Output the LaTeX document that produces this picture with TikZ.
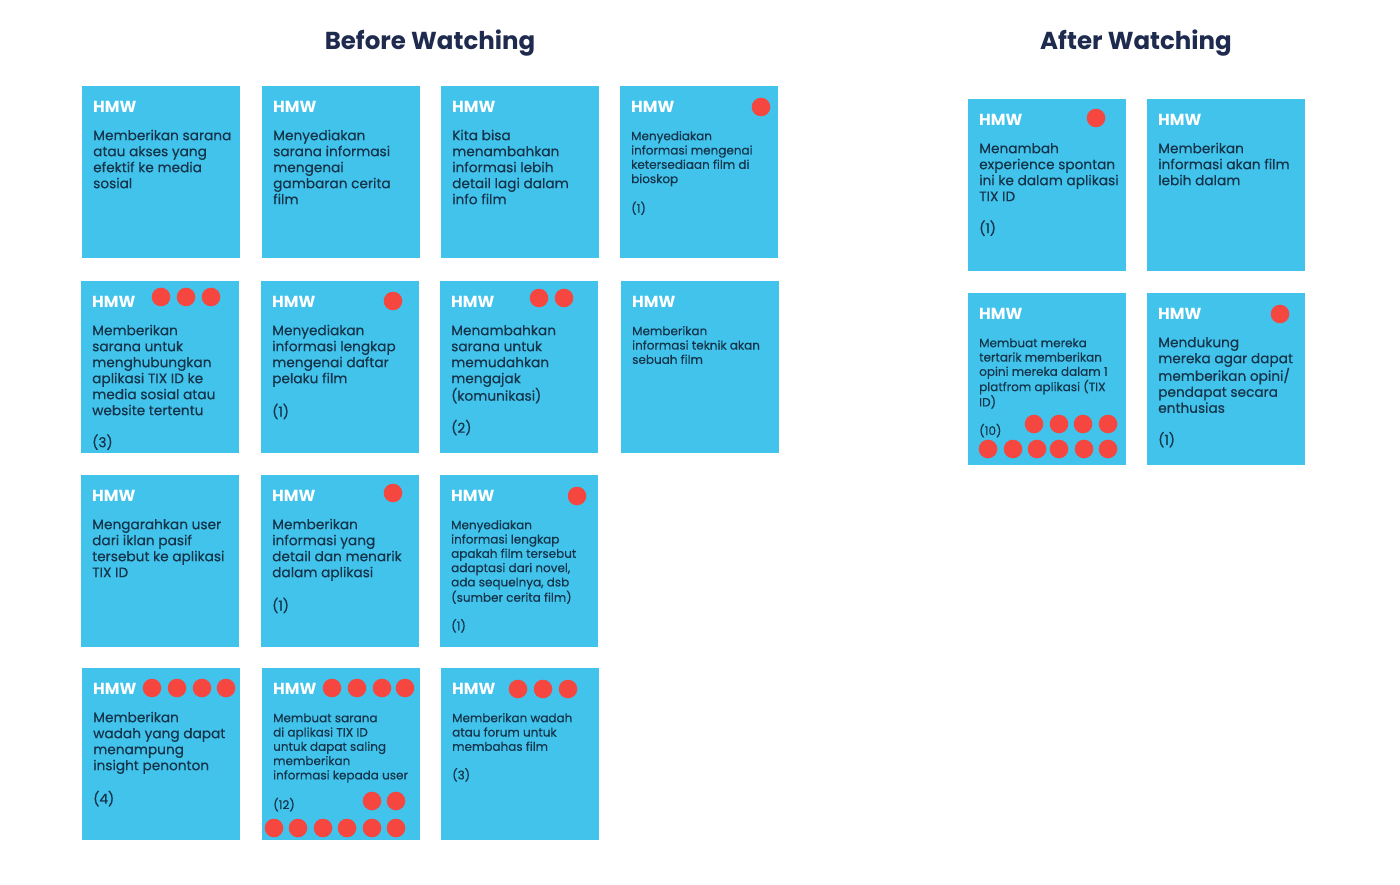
\documentclass[tikz,border=0pt]{standalone}
\usepackage{fontspec}
\setmainfont{Poppins}
\newfontfamily\medfont[FakeBold=0.35]{Poppins}
\definecolor{cardblue}{HTML}{41C3EC}
\definecolor{dotred}{HTML}{F5473F}
\definecolor{titlenavy}{HTML}{1E2B4F}
\definecolor{bodytext}{HTML}{15344A}
\tikzset{
  card/.style={fill=cardblue, draw=none, minimum width=158pt, minimum height=172pt, anchor=north west, inner sep=0pt, outer sep=0pt},
  hmw/.style={anchor=base west, inner sep=0pt, text=white, font=\fontsize{16}{19}\selectfont\bfseries},
  bigtxt/.style={anchor=north west, inner sep=0pt, align=left, text=bodytext, font=\medfont\fontsize{13.7}{16}\selectfont},
  smalltxt/.style={anchor=north west, inner sep=0pt, align=left, text=bodytext, font=\medfont\fontsize{12}{14.3}\selectfont},
  dot/.style={circle, fill=dotred, draw=none, minimum size=18.6pt, inner sep=0pt},
  ttl/.style={anchor=base, text=titlenavy, font=\fontsize{24.5}{28}\selectfont\bfseries}
}
% first-line strut: fixes the top of each text block 12pt above its first baseline
\newcommand{\fl}{\rule{0pt}{12pt}}
\newcommand{\mkcard}[5]{%
  \node[card] (#1) at (#2,#3) {};
  \node[hmw] (#1-h) at ([xshift=11pt,yshift=-26.5pt]#1.north west) {HMW};
  \node[#4] (#1-t) at ([xshift=11pt,yshift=-42pt]#1.north west) {\fl #5};
}
\begin{document}
\begin{tikzpicture}[x=1pt,y=-1pt]
\useasboundingbox (0,0) rectangle (1400,885);
\fill[white] (0,0) rectangle (1400,885);

\node[ttl] (t1) at (430,50) {Before Watching};
\node[ttl] (t2) at (1136,50) {After Watching};

% Row 1
\mkcard{c11}{82}{86}{bigtxt}{Memberikan sarana\\atau akses yang\\efektif ke media\\sosial}
\mkcard{c12}{262}{86}{bigtxt}{Menyediakan\\sarana informasi\\mengenai\\gambaran cerita\\film}
\mkcard{c13}{441}{86}{bigtxt}{Kita bisa\\menambahkan\\informasi lebih\\detail lagi dalam\\info film}
\mkcard{c14}{620}{86}{smalltxt}{Menyediakan\\informasi mengenai\\ketersediaan film di\\bioskop\\[\baselineskip](1)}
% Row 2
\mkcard{c21}{81}{281}{bigtxt}{Memberikan\\sarana untuk\\menghubungkan\\aplikasi TIX ID ke\\media sosial atau\\website tertentu\\[\baselineskip](3)}
\mkcard{c22}{261}{281}{bigtxt}{Menyediakan\\informasi lengkap\\mengenai daftar\\pelaku film\\[\baselineskip](1)}
\mkcard{c23}{440}{281}{bigtxt}{Menambahkan\\sarana untuk\\memudahkan\\mengajak\\(komunikasi)\\[\baselineskip](2)}
\mkcard{c24}{621}{281}{smalltxt}{Memberikan\\informasi teknik akan\\sebuah film}
% Row 3
\mkcard{c31}{81}{475}{bigtxt}{Mengarahkan user\\dari iklan pasif\\tersebut ke aplikasi\\TIX ID}
\mkcard{c32}{261}{475}{bigtxt}{Memberikan\\informasi yang\\detail dan menarik\\dalam aplikasi\\[\baselineskip](1)}
\mkcard{c33}{440}{475}{smalltxt}{Menyediakan\\informasi lengkap\\apakah film tersebut\\adaptasi dari novel,\\ada sequelnya, dsb\\(sumber cerita film)\\[\baselineskip](1)}
% Row 4
\mkcard{c41}{82}{668}{bigtxt}{Memberikan\\wadah yang dapat\\menampung\\insight penonton\\[\baselineskip](4)}
\mkcard{c42}{262}{668}{smalltxt}{Membuat sarana\\di aplikasi TIX ID\\untuk dapat saling\\memberikan\\informasi kepada user\\[\baselineskip](12)}
\mkcard{c43}{441}{668}{smalltxt}{Memberikan wadah\\atau forum untuk\\membahas film\\[\baselineskip](3)}
% After
\mkcard{a11}{968}{99}{bigtxt}{Menambah\\experience spontan\\ini ke dalam aplikasi\\TIX ID\\[\baselineskip](1)}
\mkcard{a12}{1147}{99}{bigtxt}{Memberikan\\informasi akan film\\lebih dalam}
\mkcard{a21}{968}{293}{smalltxt}{Membuat mereka\\tertarik memberikan\\opini mereka dalam 1\\platfrom aplikasi (TIX\\ID)\\[\baselineskip](10)}
\mkcard{a22}{1147}{293}{bigtxt}{Mendukung\\mereka agar dapat\\memberikan opini/\\pendapat secara\\enthusias\\[\baselineskip](1)}

% Dots
\node[dot] (d14a) at (761,107) {};
\foreach \x [count=\i] in {161,186,211} \node[dot] (d21-\i) at (\x,297) {};
\node[dot] (d22a) at (393,301) {};
\foreach \x [count=\i] in {539,564} \node[dot] (d23-\i) at (\x,298) {};
\node[dot] (d32a) at (393,493) {};
\node[dot] (d33a) at (577,496) {};
\foreach \x [count=\i] in {152,177,202,226} \node[dot] (d41-\i) at (\x,688) {};
\foreach \x [count=\i] in {332,357,382,405} \node[dot] (d42t-\i) at (\x,688) {};
\foreach \x [count=\i] in {372,396} \node[dot] (d42m-\i) at (\x,801) {};
\foreach \x [count=\i] in {274,298,323,347,372,396} \node[dot] (d42b-\i) at (\x,828) {};
\foreach \x [count=\i] in {518,543,568} \node[dot] (d43-\i) at (\x,689) {};
\node[dot] (da11) at (1096,118) {};
\foreach \x [count=\i] in {1034,1059,1083,1108} \node[dot] (da21m-\i) at (\x,424) {};
\foreach \x [count=\i] in {988,1013,1037,1059,1084,1108} \node[dot] (da21b-\i) at (\x,449) {};
\node[dot] (da22) at (1280,314) {};
\end{tikzpicture}
\end{document}
